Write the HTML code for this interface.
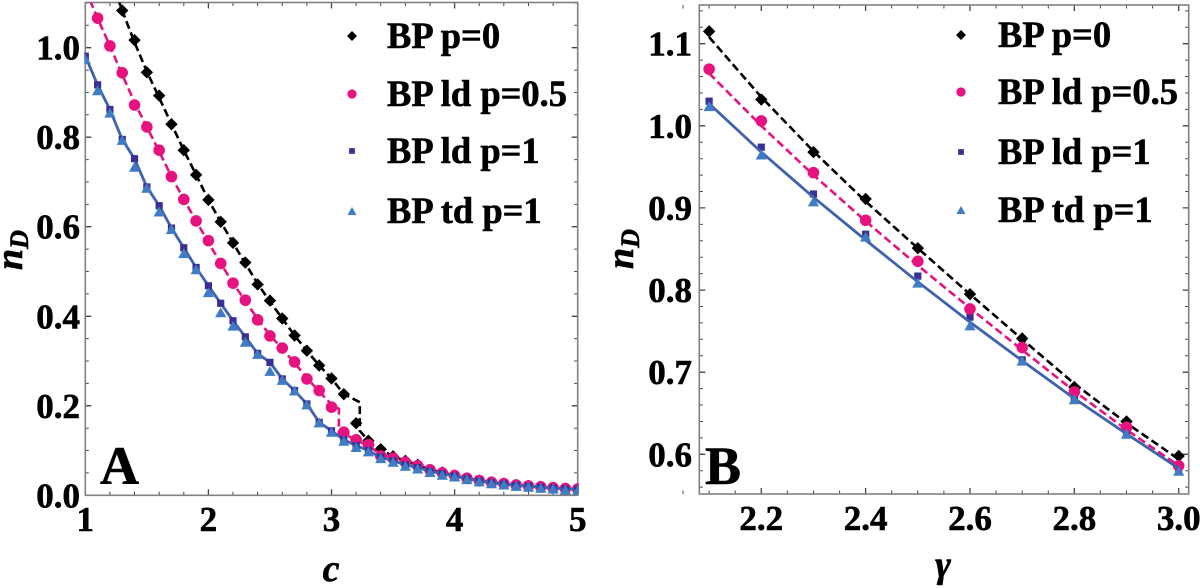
<!DOCTYPE html>
<html>
<head>
<meta charset="utf-8">
<style>
html,body{margin:0;padding:0;background:#fff;}
svg{display:block;}
text{font-family:"Liberation Serif",serif;font-weight:bold;fill:#000;stroke:#000;stroke-width:0.6px;}
</style>
</head>
<body>
<svg id="chart" width="1200" height="588" viewBox="0 0 1200 588" xmlns="http://www.w3.org/2000/svg"></svg>
<script>
// Panel A data
const aXTicks = [1, 2, 3, 4, 5];
const aYTicks = [0, 0.2, 0.4, 0.6, 0.8, 1.0];
const aC0 = [1.3,1.4,1.5,1.6,1.7,1.8,1.9,2.0,2.1,2.2,2.3,2.4,2.5,2.6,2.7,2.8,2.9,3.0,3.1,3.2,3.3,3.4,3.5,3.6,3.7,3.8,3.9,4.0,4.1,4.2,4.3,4.4,4.5,4.6,4.7,4.8,4.9,5.0];
const aP0 = [1.083,1.017,0.945,0.893,0.829,0.771,0.716,0.660,0.611,0.564,0.520,0.471,0.435,0.395,0.357,0.323,0.290,0.261,0.226,0.161,0.122,0.103,0.087,0.077,0.068,0.057,0.051,0.044,0.038,0.033,0.029,0.026,0.023,0.021,0.019,0.017,0.015,0.014];
const aP0LineC = [1.2,1.3,1.4,1.5,1.6,1.7,1.8,1.9,2.0,2.1,2.2,2.3,2.4,2.5,2.6,2.7,2.8,2.9,3.0,3.1,3.23,3.23,3.3,3.4,3.5,3.6,3.7,3.8,3.9,4.0,4.2,4.4,4.6,4.8,5.0];
const aP0LineN = [1.16,1.083,1.012,0.947,0.888,0.829,0.771,0.716,0.660,0.611,0.564,0.518,0.473,0.433,0.395,0.357,0.323,0.290,0.261,0.226,0.208,0.144,0.122,0.103,0.087,0.077,0.068,0.057,0.051,0.044,0.033,0.026,0.021,0.017,0.014];
const aC05 = [1.1,1.2,1.3,1.4,1.5,1.6,1.7,1.8,1.9,2.0,2.1,2.2,2.3,2.4,2.5,2.6,2.7,2.8,2.9,3.0,3.1,3.2,3.3,3.4,3.5,3.6,3.7,3.8,3.9,4.0,4.1,4.2,4.3,4.4,4.5,4.6,4.7,4.8,4.9,5.0];
const aP05 = [1.066,1.004,0.944,0.872,0.823,0.771,0.712,0.661,0.613,0.569,0.518,0.474,0.436,0.392,0.356,0.329,0.298,0.260,0.234,0.197,0.141,0.124,0.113,0.088,0.083,0.074,0.066,0.057,0.050,0.044,0.038,0.033,0.029,0.026,0.023,0.021,0.019,0.017,0.015,0.014];
const aP05LineC = [1.0,1.1,1.2,1.3,1.4,1.5,1.6,1.7,1.8,1.9,2.0,2.1,2.2,2.3,2.4,2.5,2.6,2.7,2.8,2.9,3.0,3.06,3.06,3.1,3.2,3.3,3.4,3.5,3.6,3.7,3.8,3.9,4.0,4.2,4.4,4.6,4.8,5.0];
const aP05LineN = [1.13,1.066,1.004,0.940,0.878,0.823,0.768,0.712,0.661,0.613,0.565,0.518,0.474,0.434,0.394,0.358,0.327,0.296,0.262,0.232,0.203,0.193,0.140,0.137,0.124,0.110,0.092,0.083,0.074,0.066,0.057,0.050,0.044,0.033,0.026,0.021,0.017,0.014];
const aC1 = [1.0,1.1,1.2,1.3,1.4,1.5,1.6,1.7,1.8,1.9,2.0,2.1,2.2,2.3,2.4,2.5,2.6,2.7,2.8,2.9,3.0,3.1,3.2,3.3,3.4,3.5,3.6,3.7,3.8,3.9,4.0,4.1,4.2,4.3,4.4,4.5,4.6,4.7,4.8,4.9,5.0];
const aP1Ld = [0.981,0.917,0.862,0.795,0.752,0.689,0.647,0.597,0.553,0.509,0.468,0.429,0.390,0.354,0.317,0.297,0.260,0.234,0.204,0.163,0.144,0.124,0.111,0.100,0.085,0.077,0.068,0.062,0.054,0.048,0.043,0.037,0.032,0.028,0.025,0.022,0.020,0.018,0.016,0.014,0.013];
const aP1Td = [0.975,0.905,0.855,0.794,0.734,0.687,0.634,0.595,0.541,0.505,0.454,0.409,0.379,0.343,0.316,0.278,0.258,0.234,0.203,0.163,0.142,0.122,0.108,0.098,0.083,0.075,0.066,0.060,0.052,0.046,0.042,0.036,0.031,0.027,0.024,0.021,0.019,0.017,0.015,0.013,0.012];

// Panel B data
const bXTicks = [2.2, 2.4, 2.6, 2.8, 3.0];
const bYTicks = [0.6, 0.7, 0.8, 0.9, 1.0, 1.1];
const bGamma = [2.1,2.2,2.3,2.4,2.5,2.6,2.7,2.8,2.9,3.0];
const bP0 = [1.115,1.032,0.968,0.911,0.851,0.795,0.741,0.682,0.640,0.598];
const bP05 = [1.069,1.006,0.943,0.885,0.835,0.777,0.730,0.676,0.633,0.586];
const bP1Ld = [1.030,0.974,0.917,0.868,0.817,0.767,0.715,0.666,0.626,0.583];
const bP1Td = [1.024,0.965,0.908,0.865,0.809,0.757,0.714,0.667,0.625,0.580];
const bLine0 = [1.108,1.035,0.969,0.908,0.851,0.795,0.740,0.686,0.638,0.594];
const bLine05 = [1.064,1.000,0.940,0.884,0.830,0.778,0.727,0.677,0.630,0.586];
const bLine1 = [1.027,0.968,0.913,0.861,0.810,0.761,0.714,0.668,0.625,0.583];

const legendLabels = ["BP p=0", "BP ld p=0.5", "BP ld p=1", "BP td p=1"];

const NS = "http://www.w3.org/2000/svg";
const svg = document.getElementById("chart");
const COL = {black:"#000000", pink:"#e6127f", sq:"#3a2f95", tri:"#3f7cc4", line:"#3f62ad"};

function make(tag, attrs, parent){
  const e = document.createElementNS(NS, tag);
  for (const k in attrs) e.setAttribute(k, attrs[k]);
  (parent || svg).appendChild(e);
  return e;
}
function linear(d0, d1, r0, r1){
  return v => r0 + (v - d0) * (r1 - r0) / (d1 - d0);
}
function drawTicks(g, P, xMinor, yMinor){
  let d = "", D = "";
  const eps = 1e-6;
  const nx = Math.round((P.xMax - P.xStart) / xMinor);
  for (let i = 0; i <= nx; i++){
    const v = P.xStart + i * xMinor, x = P.sx(v).toFixed(1);
    const big = Math.abs(v / P.xMajor - Math.round(v / P.xMajor)) < eps * 100;
    const l = big ? 6 : 3.5;
    const s = `M${x} ${P.bottom}V${P.bottom - l}M${x} ${P.top}V${P.top + l}`;
    if (big) D += s; else d += s;
  }
  const ny = Math.round((P.yMax - P.yStart) / yMinor);
  for (let i = 0; i <= ny; i++){
    const v = P.yStart + i * yMinor, y = P.sy(v).toFixed(1);
    const big = Math.abs(v / P.yMajor - Math.round(v / P.yMajor)) < eps * 100;
    const l = big ? 6 : 3.5;
    const s = `M${P.left} ${y}H${P.left + l}M${P.right} ${y}H${P.right - l}`;
    if (big) D += s; else d += s;
  }
  const minor = make("path", {d:d, stroke:"#444", "stroke-width":1, fill:"none"}, g);
  
  
  const major = make("path", {d:D, stroke:"#444", "stroke-width":1.3, fill:"none"}, g);
  
  
}
function marker(g, kind, x, y, s){
  let e;
  if (kind === "diamond"){
    const r = 6.2 * s;
    e = make("polygon", {points:`${x},${y-r} ${x+r},${y} ${x},${y+r} ${x-r},${y}`, fill:COL.black}, g);
  } else if (kind === "circle"){
    e = make("circle", {cx:x, cy:y, r:5.8 * s, fill:COL.pink}, g);
  } else if (kind === "square"){
    const a = 7.2 * s;
    e = make("rect", {x:x-a/2, y:y-a/2, width:a, height:a, fill:COL.sq}, g);
  } else {
    const w = 5.6 * s, h = 5 * s;
    e = make("polygon", {points:`${x},${y-h} ${x+w},${y+h} ${x-w},${y+h}`, fill:COL.tri}, g);
  }
  return e;
}
function drawLine(g, P, xs, ys, stroke, w, dash, name){
  const pts = xs.map((v, i) => P.sx(v).toFixed(1) + "," + P.sy(ys[i]).toFixed(1)).join(" ");
  const attrs = {points:pts, fill:"none", stroke:stroke, "stroke-width":w};
  if (dash) attrs["stroke-dasharray"] = dash;
  const l = make("polyline", attrs, g);
  
  
}
function drawMarks(g, P, xs, ys, kind, name){
  const grp = make("g", {}, g);
  
  
  xs.forEach((v, i) => {
    const m = marker(grp, kind, P.sx(v), P.sy(ys[i]), 1);
    
    
  });
}
function drawLegend(g, mx, tx, rows){
  const kinds = ["diamond", "circle", "square", "triangle"];
  legendLabels.forEach((lab, i) => {
    const row = make("g", {}, g);
    
    
    marker(row, kinds[i], mx, rows[i], 0.8);
    const t = make("text", {x:tx, y:rows[i] + 12, "font-size":36.5}, row);
    t.textContent = lab;
  });
}
function frame(g, P){
  const f = make("rect", {x:P.left, y:P.top, width:P.right - P.left, height:P.bottom - P.top, fill:"none", stroke:"#808080", "stroke-width":1.6}, g);
  
  
}
function clipFor(id, P){
  const c = make("clipPath", {id:id});
  make("rect", {x:P.left - 1, y:P.top, width:P.right - P.left + 2, height:P.bottom - P.top + 1}, c);
}
function tickLabels(g, P, xt, yt, xDec, yLabelX, xBase){
  xt.forEach(v => {
    const t = make("text", {x:P.sx(v), y:xBase, "font-size":35, "text-anchor":"middle"}, g);
    
    
    t.textContent = v.toFixed(xDec);
  });
  yt.forEach(v => {
    const t = make("text", {x:yLabelX, y:P.sy(v) + 12, "font-size":35, "text-anchor":"end"}, g);
    
    
    t.textContent = v.toFixed(1);
  });
}
function yTitle(g, x, y){
  const t = make("text", {transform:`translate(${x},${y}) rotate(-90)`, "font-size":38, "font-style":"italic", "text-anchor":"middle"}, g);
  
  
  const a = make("tspan", {}, t);
  a.textContent = "n";
  const b = make("tspan", {"font-size":26, dy:6}, t);
  b.textContent = "D";
}

// Panel A
const PA = {left:85.3, right:577.7, top:2.5, bottom:495.3, xStart:1, xMax:5, xMajor:1, yStart:0, yMax:1.1, yMajor:0.2,
  sx:linear(1, 5, 85.3, 577.7), sy:linear(0, 1, 495.3, 47.7)};
const gA = make("g", {});


clipFor("clipA", PA);
drawTicks(gA, PA, 0.2, 0.05);
frame(gA, PA);
const plotA = make("g", {"clip-path":"url(#clipA)"}, gA);
drawLine(plotA, PA, aP0LineC, aP0LineN, COL.black, 2.6, "8 4", "line-bp-p0");
drawMarks(plotA, PA, aC0, aP0, "diamond", "markers-bp-p0");
drawLine(plotA, PA, aP05LineC, aP05LineN, COL.pink, 2.6, "8 4", "line-bp-ld-p05");
drawMarks(plotA, PA, aC05, aP05, "circle", "markers-bp-ld-p05");
drawLine(plotA, PA, aC1, aP1Ld, COL.line, 2.8, null, "line-bp-ld-p1");
drawMarks(plotA, PA, aC1, aP1Ld, "square", "markers-bp-ld-p1");
drawMarks(plotA, PA, aC1, aP1Td, "triangle", "markers-bp-td-p1");
tickLabels(gA, PA, aXTicks, aYTicks, 0, 80, 531);
yTitle(gA, 22, 250);
const cT = make("text", {x:331, y:581, "font-size":38, "font-style":"italic", "text-anchor":"middle"}, gA);


cT.textContent = "c";
const lA = make("text", {x:100, y:484, "font-size":54}, gA);


lA.textContent = "A";
drawLegend(gA, 352, 387, [36, 94, 151, 211]);

// Panel B
const PB = {left:699.3, right:1188.7, top:5, bottom:494, xStart:2.05, xMax:3.0, xMajor:0.2, yStart:0.56, yMax:1.14, yMajor:0.1,
  sx:linear(2.2, 3.0, 761.3, 1178.7), sy:linear(0.6, 1.1, 454.3, 43.7)};
const gB = make("g", {});


clipFor("clipB", PB);
drawTicks(gB, PB, 0.05, 0.02);
frame(gB, PB);
const plotB = make("g", {"clip-path":"url(#clipB)"}, gB);
drawLine(plotB, PB, bGamma, bLine0, COL.black, 2.6, "8 4", "line-b-bp-p0");
drawMarks(plotB, PB, bGamma, bP0, "diamond", "markers-b-bp-p0");
drawLine(plotB, PB, bGamma, bLine05, COL.pink, 2.6, "8 4", "line-b-bp-ld-p05");
drawMarks(plotB, PB, bGamma, bP1Ld, "square", "markers-b-bp-ld-p1");
drawMarks(plotB, PB, bGamma, bP05, "circle", "markers-b-bp-ld-p05");
drawLine(plotB, PB, bGamma, bLine1, COL.line, 2.8, null, "line-b-bp-td-p1");
drawMarks(plotB, PB, bGamma, bP1Td, "triangle", "markers-b-bp-td-p1");
tickLabels(gB, PB, bXTicks, bYTicks, 1, 692, 530);
yTitle(gB, 633, 249);
const gT = make("text", {x:943, y:577, "font-size":38, "font-style":"italic", "text-anchor":"middle"}, gB);


gT.textContent = "γ";
const lB = make("text", {x:705, y:484, "font-size":54}, gB);


lB.textContent = "B";
drawLegend(gB, 961, 998, [35, 92, 152, 210]);
</script>
</body>
</html>
